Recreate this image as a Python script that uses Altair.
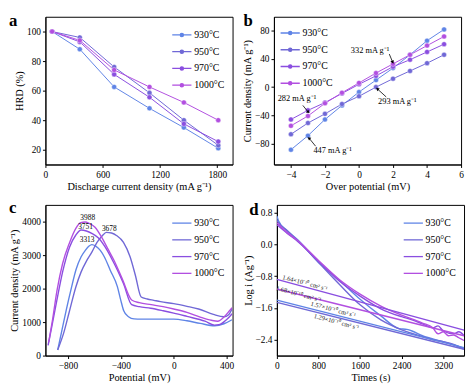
import altair as alt
import pandas as pd

temps = ["930°C", "950°C", "970°C", "1000°C"]
colors = ["#5f84e6", "#7068d6", "#8a4ee0", "#b24fe0"]
SERIF = "Liberation Serif"

# ---------------- panel a ----------------
a_x = [70, 360, 720, 1090, 1450, 1810]
a_930 = [100, 88, 62.5, 48, 35, 21]
a_950 = [100, 96, 76, 58.5, 40, 23]
a_970 = [100, 93, 71, 55.5, 37.5, 25.5]
a_1000 = [100, 94, 74, 62.5, 52, 40]

# ---------------- panel b ----------------
b_x = [-4, -3, -2, -1, 0, 1, 2, 3, 4, 5]
b_930 = [-89, -69, -46, -26, -7, 10, 27, 46, 66, 82]
b_950 = [-67, -51, -38, -24, -13, 0, 12, 23, 34, 46]
b_970 = [-46, -33, -22, -9, 4, 16, 29, 39, 50, 61]
b_1000 = [-55, -41, -23, -8, 6, 20, 33, 46, 59, 72]
b_labels = ["332 mA g⁻¹", "282 mA g⁻¹", "293 mA g⁻¹", "447 mA g⁻¹"]
b_label_x = [0.65, -3.65, 2.25, -1.55]
b_label_y = [52, -16, -20, -89]
b_arrow_x1 = [1.78, -3.3, 1.6, -2.55]
b_arrow_y1 = [47, -26, -14, -84]
b_arrow_x2 = [1.97, -3.0, 1.1, -2.92]
b_arrow_y2 = [36, -35, -3, -73]
b_arrow_angle = [155, 130, 312, 307]

# ---------------- panel c ----------------
c_930_x = [-877, -845, -811, -775, -739, -700, -667, -640, -619, -590, -555, -523,
           -480, -426, -400, -378, -342, -300, -246, -150, 0, 100, 200, 310, 380, 441]
c_930_y = [170, 760, 1390, 2000, 2565, 2950, 3150, 3270, 3313, 3270, 3140, 2937,
           2550, 2060, 1650, 1340, 1160, 1095, 1090, 1090, 1090, 1040, 960, 890, 950, 1070]
c_950_x = [-877, -830, -790, -740, -700, -660, -620, -580, -540, -510, -470, -430,
           -380, -330, -290, -246, -200, -150, -100, 0, 100, 188, 300, 380, 415, 441]
c_950_y = [170, 700, 1300, 2050, 2500, 2820, 3080, 3380, 3580, 3678, 3660, 3580,
           3380, 2950, 2400, 1750, 1690, 1650, 1610, 1550, 1470, 1390, 1230, 1160, 1220, 1390]
c_970_x = [-950, -920, -883, -840, -787, -740, -700, -660, -620, -571, -520, -470,
           -427, -380, -318, -260, -174, -80, 0, 100, 236, 308, 350, 390, 420, 441]
c_970_y = [306, 900, 1660, 2500, 3245, 3600, 3751, 3720, 3650, 3517, 3250, 2900,
           2565, 2150, 1520, 1460, 1414, 1340, 1270, 1170, 1027, 910, 930, 1040, 1150, 1250]
c_1000_x = [-945, -915, -883, -840, -787, -740, -703, -670, -640, -595, -540, -500,
            -451, -390, -318, -260, -170, -80, 0, 100, 200, 285, 333, 380, 420, 441]
c_1000_y = [400, 1100, 1930, 2750, 3380, 3800, 3970, 3988, 3950, 3835, 3500, 3200,
            2840, 2300, 1660, 1580, 1520, 1460, 1390, 1290, 1150, 1054, 1027, 1150, 1330, 1430]
c_labels = ["3988", "3751", "3678", "3313"]
c_label_x = [-650, -667, -487, -655]
c_label_y = [4120, 3850, 3780, 3440]

# ---------------- panel d ----------------
d_930_x = [0, 30, 200, 400, 800, 1200, 1600, 2000, 2350, 2500, 2600, 2800, 3200, 3600]
d_930_y = [0.72, 0.6, 0.35, 0.12, -0.45, -0.9, -1.38, -1.8, -2.12, -2.14, -2.18, -2.3, -2.45, -2.62]
d_950_x = [0, 30, 200, 400, 800, 1200, 1600, 2000, 2400, 2800, 3000, 3200, 3400, 3600]
d_950_y = [0.62, 0.55, 0.35, 0.1, -0.45, -1.0, -1.52, -1.9, -2.15, -2.32, -2.4, -2.45, -2.52, -2.64]
d_970_x = [0, 200, 400, 800, 1200, 1600, 2000, 2400, 2600, 2800, 3000, 3100, 3200, 3400, 3500, 3600]
d_970_y = [0.5, 0.28, 0.08, -0.42, -0.92, -1.3, -1.62, -1.82, -1.9, -2.0, -2.1, -2.05, -2.18, -2.25, -2.2, -2.3]
d_1000_x = [0, 200, 400, 800, 1200, 1600, 2000, 2400, 2800, 3000, 3100, 3200, 3300, 3400, 3500, 3600]
d_1000_y = [0.55, 0.3, 0.1, -0.4, -0.88, -1.25, -1.55, -1.78, -1.98, -2.1, -2.25, -2.2, -2.3, -2.28, -2.35, -2.42]
d_fit_names = ["970°C", "1000°C", "930°C", "950°C"]
d_fit_x1 = [0, 0, 0, 0]
d_fit_y1 = [-0.88, -1.12, -1.40, -1.46]
d_fit_x2 = [3600, 3600, 3600, 3600]
d_fit_y2 = [-2.16, -2.30, -2.60, -2.64]
d_labels = ["1.64×10⁻¹⁰ cm² s⁻¹", "1.68×10⁻¹⁰ cm² s⁻¹", "1.57×10⁻¹⁰ cm² s⁻¹", "1.29×10⁻¹⁰ cm² s⁻¹"]
d_label_x = [540, 418, 1085, 1145]
d_label_y = [-0.97, -1.25, -1.64, -1.95]

W, H1, H2 = 190, 150, 153


def long_df(xs_list, ys_list):
    rows = []
    for t, xs, ys in zip(temps, xs_list, ys_list):
        for i, (x, y) in enumerate(zip(xs, ys)):
            rows.append({"T": t, "x": x, "y": y, "o": i})
    return pd.DataFrame(rows)


DOT_PATH = ("M-1,0L1,0M-0.17,0A0.17,0.17,0,1,1,0.17,0A0.17,0.17,0,1,1,-0.17,0"
            "M-0.07,0A0.07,0.07,0,1,1,0.07,0A0.07,0.07,0,1,1,-0.07,0")


def color_enc(orient, symbol, offset=6):
    return alt.Color(
        "T:N",
        scale=alt.Scale(domain=temps, range=colors),
        sort=temps,
        legend=alt.Legend(
            title=None, orient=orient, offset=offset, symbolType=symbol,
            symbolSize=380, symbolStrokeWidth=1.3, labelFont=SERIF,
            labelFontSize=10, rowPadding=1, labelOffset=2, padding=2,
            labelColor="black",
        ),
    )


def color_plain():
    return alt.Color("T:N", scale=alt.Scale(domain=temps, range=colors), legend=None)


def letter(ch, dx, dy):
    return alt.Chart(pd.DataFrame({"t": [ch]})).mark_text(
        font=SERIF, fontSize=17, fontWeight="bold", align="left", baseline="top"
    ).encode(x=alt.value(dx), y=alt.value(dy), text="t:N")


def make_axes(xdom, xvals, xtitle, ydom, yvals, ytitle, yfmt="d"):
    def X(field):
        return alt.X(field, type="quantitative", scale=alt.Scale(domain=xdom, nice=False),
                     axis=alt.Axis(values=xvals, title=xtitle, format="d", labelOverlap=False,
                                   labelFlush=False, titleFontWeight="normal"))

    def Y(field):
        return alt.Y(field, type="quantitative", scale=alt.Scale(domain=ydom, nice=False),
                     axis=alt.Axis(values=yvals, title=ytitle, format=yfmt, labelOverlap=False,
                                   labelFlush=False, titleFontWeight="normal"))
    return X, Y


# ---------------- panel a chart ----------------
Xa, Ya = make_axes([0, 1960], [0, 600, 1200, 1800], "Discharge current density (mA g⁻¹)",
                   [10, 110], [20, 40, 60, 80, 100], "HRD (%)")
dfa = long_df([a_x] * 4, [a_930, a_950, a_970, a_1000])
base_a = alt.Chart(dfa)
line_a = base_a.mark_line(strokeWidth=1).encode(x=Xa("x"), y=Ya("y"), color=color_enc("top-right", DOT_PATH), order="o:Q")
pt_a = base_a.mark_point(filled=True, size=26, opacity=1, stroke="white", strokeWidth=0.4).encode(
    x=Xa("x"), y=Ya("y"), color=color_plain())
chart_a = alt.layer(line_a, pt_a, letter("a", -37, -4)).properties(width=W, height=H1)

# ---------------- panel b chart ----------------
Xb, Yb = make_axes([-5, 6], [-4, -2, 0, 2, 4, 6], "Over potential (mV)",
                   [-110, 100], [-80, -40, 0, 40, 80], "Current density (mA g⁻¹)")
dfb = long_df([b_x] * 4, [b_930, b_950, b_970, b_1000])
base_b = alt.Chart(dfb)
line_b = base_b.mark_line(strokeWidth=1).encode(x=Xb("x"), y=Yb("y"), color=color_enc("top-left", DOT_PATH, 4), order="o:Q")
pt_b = base_b.mark_point(filled=True, size=26, opacity=1, stroke="white", strokeWidth=0.4).encode(
    x=Xb("x"), y=Yb("y"), color=color_plain())
dfb_lab = pd.DataFrame({"t": b_labels, "x": b_label_x, "y": b_label_y,
                        "x1": b_arrow_x1, "y1": b_arrow_y1, "x2": b_arrow_x2, "y2": b_arrow_y2,
                        "ang": b_arrow_angle})
txt_b = alt.Chart(dfb_lab).mark_text(font=SERIF, fontSize=8.5, color="black").encode(
    x=Xb("x"), y=Yb("y"), text="t:N")
arr_b = alt.Chart(dfb_lab).mark_rule(color="black", strokeWidth=0.8).encode(
    x=Xb("x1"), y=Yb("y1"), x2="x2:Q", y2="y2:Q")
head_b = alt.Chart(dfb_lab).mark_point(shape="triangle", filled=True, size=14, color="black", opacity=1).encode(
    x=Xb("x2"), y=Yb("y2"), angle=alt.Angle("ang:Q", scale=None))
chart_b = alt.layer(line_b, pt_b, txt_b, arr_b, head_b, letter("b", -31, -4)).properties(width=W, height=H1)

# ---------------- panel c chart ----------------
Xc, Yc = make_axes([-970, 445], [-800, -400, 0, 400], "Potential (mV)",
                   [0, 4500], [0, 1000, 2000, 3000, 4000], "Current density (mA g⁻¹)")
dfc = long_df([c_930_x, c_950_x, c_970_x, c_1000_x], [c_930_y, c_950_y, c_970_y, c_1000_y])
line_c = alt.Chart(dfc).mark_line(strokeWidth=1.4, interpolate="monotone", clip=True).encode(
    x=Xc("x"), y=Yc("y"), color=color_enc("top-right", "stroke"), order="o:Q")
dfc_lab = pd.DataFrame({"t": c_labels, "x": c_label_x, "y": c_label_y})
txt_c = alt.Chart(dfc_lab).mark_text(font=SERIF, fontSize=7.5, color="black").encode(
    x=Xc("x"), y=Yc("y"), text="t:N")
chart_c = alt.layer(line_c, txt_c, letter("c", -37, -5)).properties(width=W, height=H2)

# ---------------- panel d chart ----------------
Xd, Yd = make_axes([0, 3600], [0, 800, 1600, 2400, 3200], "Times (s)",
                   [-2.8, 1.0], [-2.4, -1.6, -0.8, 0.0, 0.8], "Log i (Ag⁻¹)", ".1f")
dfd = long_df([d_930_x, d_950_x, d_970_x, d_1000_x], [d_930_y, d_950_y, d_970_y, d_1000_y])
line_d = alt.Chart(dfd).mark_line(strokeWidth=1.4, interpolate="monotone", clip=True).encode(
    x=Xd("x"), y=Yd("y"), color=color_enc("top-right", "stroke"), order="o:Q")
dfd_fit = pd.DataFrame({"T": d_fit_names, "x1": d_fit_x1, "y1": d_fit_y1,
                        "x2": d_fit_x2, "y2": d_fit_y2})
fit_d = alt.Chart(dfd_fit).mark_rule(strokeWidth=1.4).encode(
    x=Xd("x1"), y=Yd("y1"), x2="x2:Q", y2="y2:Q", color=color_plain())
dfd_lab = pd.DataFrame({"t": d_labels, "x": d_label_x, "y": d_label_y})
txt_d = alt.Chart(dfd_lab).mark_text(font=SERIF, fontSize=6.5, color="#222", angle=15).encode(
    x=Xd("x"), y=Yd("y"), text="t:N")
chart_d = alt.layer(line_d, fit_d, txt_d, letter("d", -28, -3)).properties(width=W, height=H2)

row1 = alt.hconcat(chart_a, chart_b, spacing=8).resolve_scale(color="independent").resolve_legend(color="independent")
row2 = alt.hconcat(chart_c, chart_d, spacing=8).resolve_scale(color="independent").resolve_legend(color="independent")
chart = alt.vconcat(row1, row2, spacing=5).resolve_scale(color="independent").resolve_legend(color="independent")

chart = chart.configure(font=SERIF, padding=0).configure_view(
    stroke="black", strokeWidth=1
).configure_axis(
    labelFont=SERIF, titleFont=SERIF, labelFontSize=9.5, titleFontSize=10.5,
    labelColor="black", titleColor="black", domainColor="black", tickColor="black",
    tickSize=3, grid=False, titleFontWeight="normal", labelPadding=2, titlePadding=3,
).configure_axisY(titlePadding=2)

chart.save("out.html", embed_options={"renderer": "svg", "actions": False})
